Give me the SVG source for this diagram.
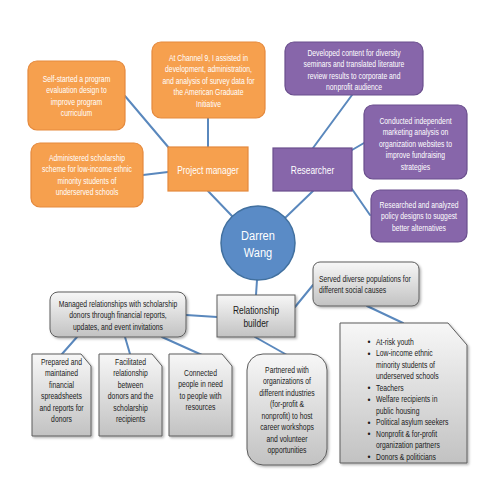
<svg xmlns="http://www.w3.org/2000/svg" width="495" height="495" viewBox="0 0 495 495">
<style>
text{font-family:'Liberation Sans',Arial,sans-serif;font-size:8.5px;text-anchor:middle}
.w{fill:#ffffff}
.k{fill:#1a1a1a}
.l{text-anchor:start}
.or{fill:#F6A04E;stroke:#E5893C;stroke-width:1.2}
.pu{fill:#8766AA;stroke:#6A4E8D;stroke-width:1.2}
.gr{fill:url(#g);stroke:#5c5c5c;stroke-width:1;filter:url(#sh)}
.lbl{font-size:10.5px}
#conn line{stroke:#5A88BD;stroke-width:2;stroke-linecap:round}
</style>
<defs>
<linearGradient id="g" x1="0" y1="0" x2="0" y2="1">
<stop offset="0" stop-color="#f7f7f7"/>
<stop offset="1" stop-color="#c2c2c2"/>
</linearGradient>
<filter id="sh" x="-10%" y="-10%" width="130%" height="130%">
<feDropShadow dx="1.5" dy="1.5" stdDeviation="1" flood-color="#000" flood-opacity="0.3"/>
</filter>
</defs>
<rect width="495" height="495" fill="#ffffff"/>
<g id="conn">
<line x1="125" y1="96" x2="169" y2="148"/>
<line x1="143" y1="175" x2="168" y2="172"/>
<line x1="208" y1="118" x2="208" y2="147"/>
<line x1="208" y1="191" x2="232" y2="216"/>
<line x1="352" y1="95" x2="313" y2="148"/>
<line x1="352" y1="150" x2="364" y2="143"/>
<line x1="352" y1="189" x2="370" y2="215"/>
<line x1="313" y1="191" x2="285" y2="218"/>
<line x1="257" y1="280" x2="256" y2="295"/>
<line x1="186" y1="315" x2="217" y2="317"/>
<line x1="295" y1="307" x2="313" y2="285"/>
<line x1="255" y1="337" x2="287" y2="355"/>
<line x1="367" y1="306" x2="403" y2="323"/>
<line x1="77" y1="337" x2="62" y2="354"/>
<line x1="125" y1="337" x2="130" y2="354"/>
<line x1="162" y1="337" x2="202" y2="355"/>
</g>
<g id="self-started">
<rect class="or" x="28" y="61" width="97" height="69" rx="9"/>
<text class="w" transform="translate(76.5 0) scale(0.8 1)"><tspan x="0" y="82">Self-started a program</tspan><tspan x="0" y="93.5">evaluation design to</tspan><tspan x="0" y="105">improve program</tspan><tspan x="0" y="116.5">curriculum</tspan></text>
</g>
<g id="channel9">
<rect class="or" x="152" y="42" width="113" height="76" rx="9"/>
<text class="w" transform="translate(208.5 0) scale(0.8 1)"><tspan x="0" y="61">At Channel 9, I assisted in</tspan><tspan x="0" y="72.5">development, administration,</tspan><tspan x="0" y="84">and analysis of survey data for</tspan><tspan x="0" y="95.5">the American Graduate</tspan><tspan x="0" y="107">Initiative</tspan></text>
</g>
<g id="administered">
<rect class="or" x="31" y="143" width="112" height="64" rx="9"/>
<text class="w" transform="translate(87 0) scale(0.8 1)"><tspan x="0" y="161">Administered scholarship</tspan><tspan x="0" y="172.5">scheme for low-income ethnic</tspan><tspan x="0" y="184">minority students of</tspan><tspan x="0" y="195.5">underserved schools</tspan></text>
</g>
<g id="project-manager">
<rect class="or" x="168" y="147" width="80" height="44"/>
<text class="w lbl" transform="translate(208 0) scale(0.8 1)" x="0" y="174.5">Project manager</text>
</g>
<g id="developed">
<rect class="pu" x="285" y="42" width="138" height="53" rx="9"/>
<text class="w" transform="translate(354 0) scale(0.8 1)"><tspan x="0" y="56">Developed content for diversity</tspan><tspan x="0" y="67.5">seminars and translated literature</tspan><tspan x="0" y="79">review results to corporate and</tspan><tspan x="0" y="90.5">nonprofit audience</tspan></text>
</g>
<g id="conducted">
<rect class="pu" x="364" y="105" width="103" height="74" rx="9"/>
<text class="w" transform="translate(415.5 0) scale(0.8 1)"><tspan x="0" y="124">Conducted independent</tspan><tspan x="0" y="135.5">marketing analysis on</tspan><tspan x="0" y="147">organization websites to</tspan><tspan x="0" y="158.5">improve fundraising</tspan><tspan x="0" y="170">strategies</tspan></text>
</g>
<g id="researched">
<rect class="pu" x="371" y="190" width="96" height="52" rx="9"/>
<text class="w" transform="translate(419 0) scale(0.8 1)"><tspan x="0" y="208">Researched and analyzed</tspan><tspan x="0" y="219.5">policy designs to suggest</tspan><tspan x="0" y="231">better alternatives</tspan></text>
</g>
<g id="researcher">
<rect class="pu" x="273" y="148" width="79" height="43"/>
<text class="w lbl" transform="translate(312.5 0) scale(0.8 1)" x="0" y="174.5">Researcher</text>
</g>
<g id="darren-wang">
<circle cx="258" cy="243" r="37" fill="#5A8BC6" stroke="#41709F" stroke-width="1.5"/>
<text class="w" style="font-size:13.5px" transform="translate(258 0) scale(0.82 1)"><tspan x="0" y="240">Darren</tspan><tspan x="0" y="257">Wang</tspan></text>
</g>
<g id="relationship-builder">
<rect class="gr" x="217" y="295" width="78" height="42"/>
<text class="k" style="font-size:10.5px" transform="translate(256 0) scale(0.8 1)"><tspan x="0" y="314.5">Relationship</tspan><tspan x="0" y="327">builder</tspan></text>
</g>
<g id="managed">
<rect class="gr" x="50" y="292" width="136" height="45" rx="8"/>
<text class="k" transform="translate(118 0) scale(0.8 1)"><tspan x="0" y="307">Managed relationships with scholarship</tspan><tspan x="0" y="318.5">donors through financial reports,</tspan><tspan x="0" y="330">updates, and event invitations</tspan></text>
</g>
<g id="served">
<rect class="gr" x="313" y="262" width="106" height="44" rx="7"/>
<text class="k l" transform="translate(319 0) scale(0.8 1)"><tspan x="0" y="282">Served diverse populations for</tspan><tspan x="0" y="293.5">different social causes</tspan></text>
</g>
<g id="populations">
<path class="gr" d="M340,323 H448 L467,345 V463 H340 Z"/>
<g class="k">
<text x="369" y="345">•</text><text x="369" y="356.5">•</text><text x="369" y="391">•</text><text x="369" y="402.5">•</text><text x="369" y="425.5">•</text><text x="369" y="437">•</text><text x="369" y="460">•</text>
</g>
<text class="k l" transform="translate(376 0) scale(0.8 1)"><tspan x="0" y="345">At-risk youth</tspan><tspan x="0" y="356.5">Low-income ethnic</tspan><tspan x="0" y="368">minority students of</tspan><tspan x="0" y="379.5">underserved schools</tspan><tspan x="0" y="391">Teachers</tspan><tspan x="0" y="402.5">Welfare recipients in</tspan><tspan x="0" y="414">public housing</tspan><tspan x="0" y="425.5">Political asylum seekers</tspan><tspan x="0" y="437">Nonprofit &amp; for-profit</tspan><tspan x="0" y="448.5">organization partners</tspan><tspan x="0" y="460">Donors &amp; politicians</tspan></text>
</g>
<g id="partnered">
<rect class="gr" x="247" y="354" width="80" height="111" rx="16"/>
<text class="k" transform="translate(287 0) scale(0.8 1)"><tspan x="0" y="373">Partnered with</tspan><tspan x="0" y="384.5">organizations of</tspan><tspan x="0" y="396">different industries</tspan><tspan x="0" y="407.5">(for-profit &amp;</tspan><tspan x="0" y="419">nonprofit) to host</tspan><tspan x="0" y="430.5">career workshops</tspan><tspan x="0" y="442">and volunteer</tspan><tspan x="0" y="453.5">opportunities</tspan></text>
</g>
<g id="prepared">
<path class="gr" d="M32,354 H81 L91,366 V436 H32 Z"/>
<text class="k" transform="translate(61.5 0) scale(0.8 1)"><tspan x="0" y="365">Prepared and</tspan><tspan x="0" y="376.5">maintained</tspan><tspan x="0" y="388">financial</tspan><tspan x="0" y="399.5">spreadsheets</tspan><tspan x="0" y="411">and reports for</tspan><tspan x="0" y="422.5">donors</tspan></text>
</g>
<g id="facilitated">
<path class="gr" d="M99,354 H152 L162,366 V436 H99 Z"/>
<text class="k" transform="translate(130.5 0) scale(0.8 1)"><tspan x="0" y="365">Facilitated</tspan><tspan x="0" y="376.5">relationship</tspan><tspan x="0" y="388">between</tspan><tspan x="0" y="399.5">donors and the</tspan><tspan x="0" y="411">scholarship</tspan><tspan x="0" y="422.5">recipients</tspan></text>
</g>
<g id="connected">
<path class="gr" d="M169,354 H222 L232,366 V436 H169 Z"/>
<text class="k" transform="translate(200.5 0) scale(0.8 1)"><tspan x="0" y="376">Connected</tspan><tspan x="0" y="387.5">people in need</tspan><tspan x="0" y="399">to people with</tspan><tspan x="0" y="410.5">resources</tspan></text>
</g>
</svg>
